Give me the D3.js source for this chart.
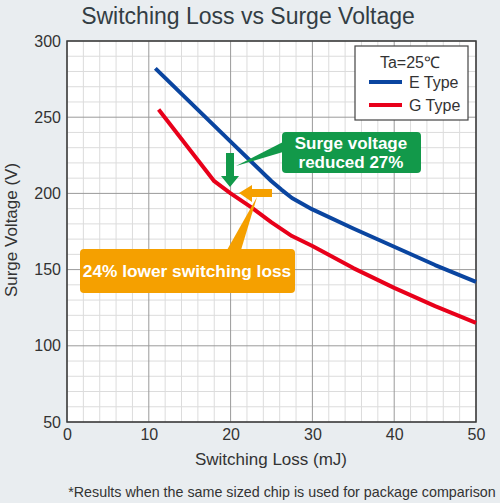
<!DOCTYPE html>
<html>
<head>
<meta charset="utf-8">
<script src="https://cdn.jsdelivr.net/npm/d3@7"></script>
<style>
  body { margin: 0; background: #e9edf0; }
  svg { display: block; font-family: Arial, "Liberation Sans", sans-serif; }
</style>
</head>
<body>
<svg id="chart"></svg>
<script>
// data
const eLoss = [10.8, 20, 25, 26.2, 27.5, 30, 35, 40, 45, 50];
const eVolt = [282, 234, 208, 202.5, 197, 189.5, 177, 165, 153, 142];
const gLoss = [11.2, 18, 20, 22.5, 25, 27.5, 30, 35, 40, 45, 50];
const gVolt = [255, 208, 200, 191, 181, 172, 165.5, 151, 138, 126, 115];
const xTicks = [0, 10, 20, 30, 40, 50];
const yTicks = [50, 100, 150, 200, 250, 300];

const width = 500, height = 503;
const margin = {top: 41, right: 24, bottom: 81, left: 67};
const w = width - margin.left - margin.right;
const h = height - margin.top - margin.bottom;

const svg = d3.select('#chart')
    .attr('width', width)
    .attr('height', height);

const x = d3.scaleLinear().domain([0, 50]).range([0, w]);
const y = d3.scaleLinear().domain([50, 300]).range([h, 0]);

// title
svg.append('text')
    .attr('x', 248).attr('y', 24)
    .attr('text-anchor', 'middle')
    .attr('font-size', 23)
    .attr('fill', '#333d44')
    .text('Switching Loss vs Surge Voltage');

const g = svg.append('g')
    .attr('transform', `translate(${margin.left},${margin.top})`);

g.append('rect').attr('width', w).attr('height', h).attr('fill', '#fff');

// minor grid every 2 mJ / 10 V, major every 10 mJ / 50 V
g.append('g')
    .selectAll('line')
    .data(d3.range(0, 50.1, 2).filter(v => v % 10 !== 0))
    .join('line')
    .attr('x1', d => x(d)).attr('x2', d => x(d))
    .attr('y1', 0).attr('y2', h)
    .attr('stroke', '#dcdcdc').attr('stroke-width', 1);
g.append('g')
    .selectAll('line')
    .data(d3.range(50, 300.1, 10).filter(v => v % 50 !== 0))
    .join('line')
    .attr('y1', d => y(d)).attr('y2', d => y(d))
    .attr('x1', 0).attr('x2', w)
    .attr('stroke', '#dcdcdc').attr('stroke-width', 1);
g.append('g')
    .selectAll('line')
    .data(xTicks)
    .join('line')
    .attr('x1', d => x(d)).attr('x2', d => x(d))
    .attr('y1', 0).attr('y2', h)
    .attr('stroke', '#9a9a9a').attr('stroke-width', 1);
g.append('g')
    .selectAll('line')
    .data(yTicks)
    .join('line')
    .attr('y1', d => y(d)).attr('y2', d => y(d))
    .attr('x1', 0).attr('x2', w)
    .attr('stroke', '#9a9a9a').attr('stroke-width', 1);

g.append('rect').attr('width', w).attr('height', h)
    .attr('fill', 'none').attr('stroke', '#3a3a3a').attr('stroke-width', 1.5);

// axes
const xAxis = g.append('g')
    .attr('transform', `translate(0,${h})`)
    .call(d3.axisBottom(x).tickValues(xTicks).tickSize(0).tickPadding(7));
const yAxis = g.append('g')
    .call(d3.axisLeft(y).tickValues(yTicks).tickSize(0).tickPadding(6));
[xAxis, yAxis].forEach(a => {
  a.select('.domain').remove();
  a.selectAll('text')
      .attr('font-size', 16)
      .attr('font-family', 'Arial, "Liberation Sans", sans-serif')
      .attr('fill', '#333');
});

svg.append('text')
    .attr('x', 271).attr('y', 465)
    .attr('text-anchor', 'middle')
    .attr('font-size', 17).attr('fill', '#333')
    .text('Switching Loss (mJ)');
svg.append('text')
    .attr('transform', 'translate(17,230) rotate(-90)')
    .attr('text-anchor', 'middle')
    .attr('font-size', 17).attr('fill', '#333')
    .text('Surge Voltage (V)');
svg.append('text')
    .attr('x', 282).attr('y', 497)
    .attr('text-anchor', 'middle')
    .attr('font-size', 14.3).attr('fill', '#333')
    .text('*Results when the same sized chip is used for package comparison');

// lines
const line = d3.line().x(d => x(d[0])).y(d => y(d[1]));
g.append('path')
    .datum(d3.zip(eLoss, eVolt))
    .attr('d', line)
    .attr('fill', 'none').attr('stroke', '#0a45a0').attr('stroke-width', 4)
    .attr('stroke-linejoin', 'round');
g.append('path')
    .datum(d3.zip(gLoss, gVolt))
    .attr('d', line)
    .attr('fill', 'none').attr('stroke', '#e8001a').attr('stroke-width', 4)
    .attr('stroke-linejoin', 'round');

// legend
const lg = svg.append('g');
lg.append('rect')
    .attr('x', 355).attr('y', 46).attr('width', 113).attr('height', 74)
    .attr('fill', '#fff').attr('stroke', '#444').attr('stroke-width', 1.2);
lg.append('text')
    .attr('x', 410).attr('y', 68)
    .attr('text-anchor', 'middle').attr('font-size', 16).attr('fill', '#333')
    .text('Ta=25℃');
[['E Type', '#0a45a0', 82], ['G Type', '#e8001a', 105]].forEach(([name, col, ly]) => {
  lg.append('line')
      .attr('x1', 369).attr('x2', 402).attr('y1', ly).attr('y2', ly)
      .attr('stroke', col).attr('stroke-width', 4);
  lg.append('text')
      .attr('x', 409).attr('y', ly + 6)
      .attr('font-size', 16).attr('fill', '#333')
      .text(name);
});

// annotations
const green = '#12994a', orange = '#f5a000';
const ann = svg.append('g');
ann.append('path')
    .attr('d', 'M283,142 L236,166 L283,152 Z')
    .attr('fill', green);
ann.append('rect')
    .attr('x', 282).attr('y', 132).attr('width', 139).attr('height', 41)
    .attr('rx', 4).attr('fill', green);
ann.append('text')
    .attr('x', 351).attr('y', 149)
    .attr('text-anchor', 'middle').attr('font-size', 17).attr('font-weight', 'bold')
    .attr('fill', '#fff').text('Surge voltage');
ann.append('text')
    .attr('x', 351).attr('y', 168)
    .attr('text-anchor', 'middle').attr('font-size', 17).attr('font-weight', 'bold')
    .attr('fill', '#fff').text('reduced 27%');
// down arrow
ann.append('path')
    .attr('d', 'M226,153 L234,153 L234,176 L239,176 L230,187 L221,176 L226,176 Z')
    .attr('fill', green);
// left arrow
ann.append('path')
    .attr('d', 'M272,189 L252,189 L252,185 L239,193 L252,202 L252,197 L272,197 Z')
    .attr('fill', orange);
ann.append('path')
    .attr('d', 'M227,250 L257,197 L241,250 Z')
    .attr('fill', orange);
ann.append('rect')
    .attr('x', 80).attr('y', 249).attr('width', 215).attr('height', 44)
    .attr('rx', 4).attr('fill', orange);
ann.append('text')
    .attr('x', 187).attr('y', 277)
    .attr('text-anchor', 'middle').attr('font-size', 17.3).attr('font-weight', 'bold')
    .attr('fill', '#fff').text('24% lower switching loss');
</script>
</body>
</html>
